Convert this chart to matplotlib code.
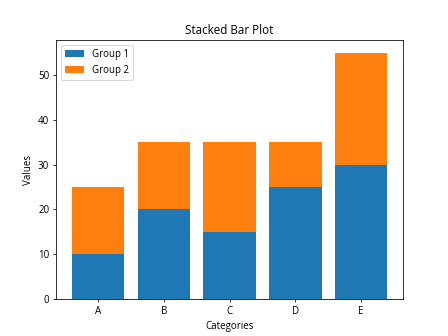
import matplotlib
matplotlib.use('Agg')
import matplotlib.pyplot as plt

plt.rcParams['font.family'] = ['Open Sans', 'DejaVu Sans']

categories = ['A', 'B', 'C', 'D', 'E']
group1 = [10, 20, 15, 25, 30]
group2 = [15, 15, 20, 10, 25]

fig, ax = plt.subplots(figsize=(6.4, 4.8), dpi=70)
ax.bar(categories, group1, label='Group 1')
ax.bar(categories, group2, bottom=group1, label='Group 2')

ax.set_xlabel('Categories')
ax.set_ylabel('Values')
ax.set_title('Stacked Bar Plot')
ax.legend()

fig.savefig('out.png')
